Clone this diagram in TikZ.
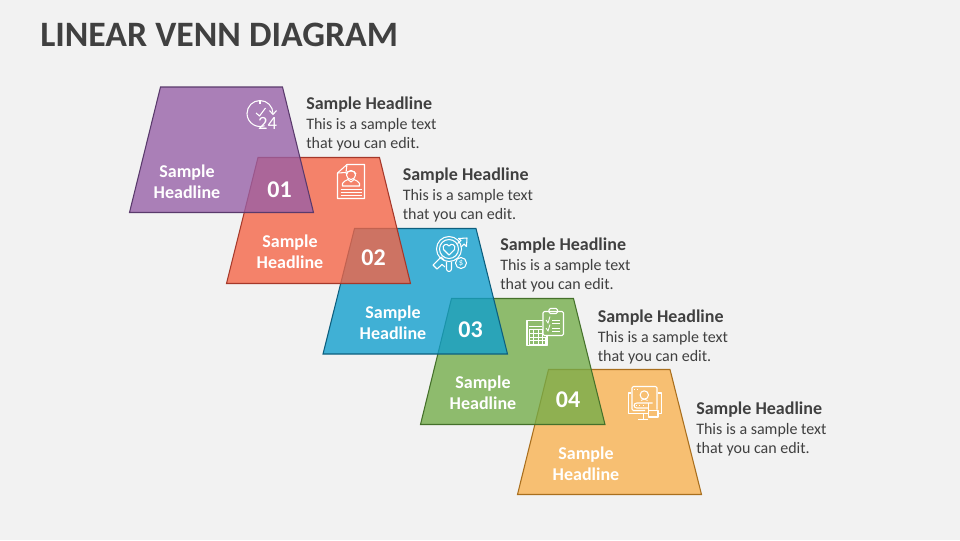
\documentclass[tikz,border=0pt]{standalone}
\usepackage{fontspec}
\setmainfont{Carlito}
\usetikzlibrary{arrows.meta}

\definecolor{pagegrey}{HTML}{F2F2F2}
\definecolor{inkgrey}{HTML}{404040}
\definecolor{purplefill}{HTML}{975FA7}
\definecolor{purpleline}{HTML}{5A3A6C}
\definecolor{orangefill}{HTML}{F56344}
\definecolor{orangeline}{HTML}{A5382A}
\definecolor{bluefill}{HTML}{0F9ECE}
\definecolor{blueline}{HTML}{0D5F7E}
\definecolor{greenfill}{HTML}{73AC48}
\definecolor{greenline}{HTML}{44702A}
\definecolor{yellowfill}{HTML}{F9B14F}
\definecolor{yellowline}{HTML}{A96F1E}

\begin{document}
\begin{tikzpicture}[%
        x = 0.75pt,
        y = -0.75pt,
        step shape/.style = {line width = 0.8pt, fill opacity = 0.78},
        title text/.style = {anchor = base west, text = inkgrey, font = \fontsize{26.8}{30}\selectfont\bfseries},
        head text/.style = {anchor = west, text = inkgrey, font = \fontsize{13.5}{14}\selectfont\bfseries},
        body text/.style = {anchor = west, align = left, text = inkgrey, font = \fontsize{12}{14.6}\selectfont},
        step text/.style = {align = center, text = white, font = \fontsize{13.5}{15.8}\selectfont\bfseries},
        num text/.style = {text = white, font = \fontsize{18}{18}\selectfont\bfseries},
        icon/.style = {draw = white, line width = 0.8pt, line join = round},
        thin icon/.style = {draw = white, line width = 0.6pt}
    ]

        % Background, which also fixes the size of the page.
        \fill[pagegrey] (0,0) rectangle (960,540);
        \useasboundingbox (0,0) rectangle (960,540);

        % The corners of the five trapezoids.
        \coordinate (p1) at (160.5,87);
        \coordinate (p2) at (282.5,87);
        \coordinate (p3) at (313.5,212.5);
        \coordinate (p4) at (129.5,212.5);

        \coordinate (o1) at (258,157.5);
        \coordinate (o2) at (379.5,157.5);
        \coordinate (o3) at (410.5,283.5);
        \coordinate (o4) at (226.5,283.5);

        \coordinate (b1) at (354.5,228.5);
        \coordinate (b2) at (476,228.5);
        \coordinate (b3) at (507.5,354);
        \coordinate (b4) at (323,354);

        \coordinate (g1) at (451.5,298.5);
        \coordinate (g2) at (573.5,298.5);
        \coordinate (g3) at (605,424.5);
        \coordinate (g4) at (420.5,424.5);

        \coordinate (y1) at (548.5,369.5);
        \coordinate (y2) at (670,369.5);
        \coordinate (y3) at (701.5,494.5);
        \coordinate (y4) at (517.5,494.5);

        % Last one first, so that each one lies over the next.
        \draw[step shape, draw = yellowline, fill = yellowfill] (y1) -- (y2) -- (y3) -- (y4) -- cycle;
        \draw[step shape, draw = greenline, fill = greenfill] (g1) -- (g2) -- (g3) -- (g4) -- cycle;
        \draw[step shape, draw = blueline, fill = bluefill] (b1) -- (b2) -- (b3) -- (b4) -- cycle;
        \draw[step shape, draw = orangeline, fill = orangefill] (o1) -- (o2) -- (o3) -- (o4) -- cycle;
        \draw[step shape, draw = purpleline, fill = purplefill] (p1) -- (p2) -- (p3) -- (p4) -- cycle;

        % The title.
        \node[title text, inner sep = 0] (title) at (40,46) {LINEAR VENN DIAGRAM};

        % Text beside and text inside each step.
        \foreach\n/\hx/\hy/\sx/\sy in {%
            1/306/104.5/187/181.5,
            2/402.5/175.5/290/251.5,
            3/500/245.5/393/322.5,
            4/597.5/317.5/483/392.5,
            5/696/409.5/586/463.5}{%
            \node[head text, inner sep = 0] (head\n) at (\hx,\hy) {Sample Headline};
            \node[body text, inner sep = 0] (body\n) at (\hx,\hy + 30) {This is a sample text\\that you can edit.};
            \node[step text, inner sep = 0] (step\n) at (\sx,\sy) {Sample\\Headline};
        }

        % The numbers in the overlaps.
        \foreach\n/\nx/\ny in {01/279.5/190, 02/373.5/258, 03/470.5/330, 04/568/399.5}{%
            \node[num text, inner sep = 0] (num\n) at (\nx,\ny) {\n};
        }

        % Clock icon.
        \draw[icon] (273,113.5) arc (0:-290:13);
        \draw[icon] (256,113) -- (259.5,116) -- (265.5,108);
        \draw[icon] (260,100.5) -- (260,103.5);
        \draw[icon] (269.5,110.5) -- (273,114.5) -- (276.5,110.5);
        \node[text = white, inner sep = 0, font = \fontsize{14}{14}\selectfont] (clockhours) at (267.5,123.5) {24};

        % Document icon.
        \draw[icon] (347,164.5) -- (364.5,164.5) -- (364.5,198.5) -- (337.5,198.5) -- (337.5,173) -- cycle;
        \draw[icon] (347,164.5) -- (346,172.5) -- (337.5,173);
        \draw[icon] (351,175) circle (4.5);
        \draw[icon] (346,174) .. controls (347,170) and (355,170) .. (356,174);
        \draw[icon] (342.5,186) -- (342.5,183.5) .. controls (343,181) and (346,181) .. (348,179.5) -- (351,182) -- (354,179.5) .. controls (356,181) and (359,181) .. (359.5,183.5) -- (359.5,186) -- cycle;
        \foreach\y in {189, 192, 195}{%
            \draw[thin icon] (340.5,\y) -- (361.5,\y);
        }

        % Magnifier icon.
        \draw[icon] (449,249) circle (12.5);
        \draw[icon] (449,249) circle (9.5);
        \draw[icon] (449,255) -- (443.5,249.5) .. controls (441.5,245) and (447,242.5) .. (449,246) .. controls (451,242.5) and (456.5,245) .. (454.5,249.5) -- cycle;
        \draw[icon] (446.5,261.5) -- (446.5,269) arc (180:0:2.5) -- (451.5,261.5);
        \draw[icon] (461,263) circle (5.5);
        \node[text = white, inner sep = 0, font = \fontsize{6.5}{6.5}\selectfont] (dollar) at (461,263) {\$};
        \draw[icon] (444,260) -- (441,257) -- (433,265) -- (437,269) -- (442,264.5) -- (445,267);
        \draw[icon] (457.5,243.5) -- (461,240.5) -- (458.5,238.5) -- (467,238) -- (466.5,246.5) -- (464,244) -- (461,247);

        % Calculator and clipboard icon.
        \draw[icon] (543,320.5) -- (527,320.5) -- (527,345.5) -- (547,345.5) -- (547,336);
        \draw[icon] (529,326.5) -- (541.5,326.5);
        \draw[thin icon] (542,329) -- (529,329) -- (529,344) -- (545,344) -- (545,336.5);
        \foreach\x in {533.5, 538, 542}{%
            \draw[thin icon] (\x,329) -- (\x,344);
        }
        \draw[thin icon] (529,333) -- (542,333);
        \draw[thin icon] (529,337) -- (545,337);
        \draw[thin icon] (529,340.5) -- (545,340.5);
        \draw[icon, rounded corners = 1] (543,311.5) rectangle (563.5,335.5);
        \draw[icon, rounded corners = 1] (549,308.5) rectangle (557.5,313.5);
        \draw[thin icon] (546,320) -- (548,323) -- (550,316.5);
        \draw[thin icon] (546,328) -- (548,331) -- (550,324.5);
        \draw[thin icon] (552,320) -- (560,320);
        \draw[thin icon] (552,323) -- (560,323);
        \draw[thin icon] (552,328) -- (560,328);
        \draw[thin icon] (552,331) -- (560,331);

        % Screen icon.
        \draw[icon, rounded corners = 1] (645,410.5) -- (632,410.5) -- (632,386.5) -- (657,386.5) -- (657,409.5);
        \draw[thin icon, dotted] (634,389.5) -- (639,389.5);
        \draw[icon] (631,393) -- (628.5,393) -- (628.5,413.5) -- (648,413.5);
        \draw[icon] (658,393) -- (661.5,393) -- (661.5,413.5) -- (658,413.5);
        \draw[icon] (644.3,395) circle (4.2);
        \draw[thin icon] (641,400.5) .. controls (642.5,398.5) and (646,398.5) .. (647.5,400.5);
        \draw[icon, rounded corners = 2] (648,408) -- (634,408) -- (634,403) -- (652.5,403);
        \draw[thin icon, dotted] (636,405.5) -- (646,405.5);
        \draw[icon] (648.5,403) -- (648.5,417) -- (658,417) -- (658,410.5) -- (648.5,410.5);
        \draw[icon] (643.5,413.5) -- (643.5,419);
        \draw[icon] (638,419.5) -- (648,419.5);
    \end{tikzpicture}
\end{document}
